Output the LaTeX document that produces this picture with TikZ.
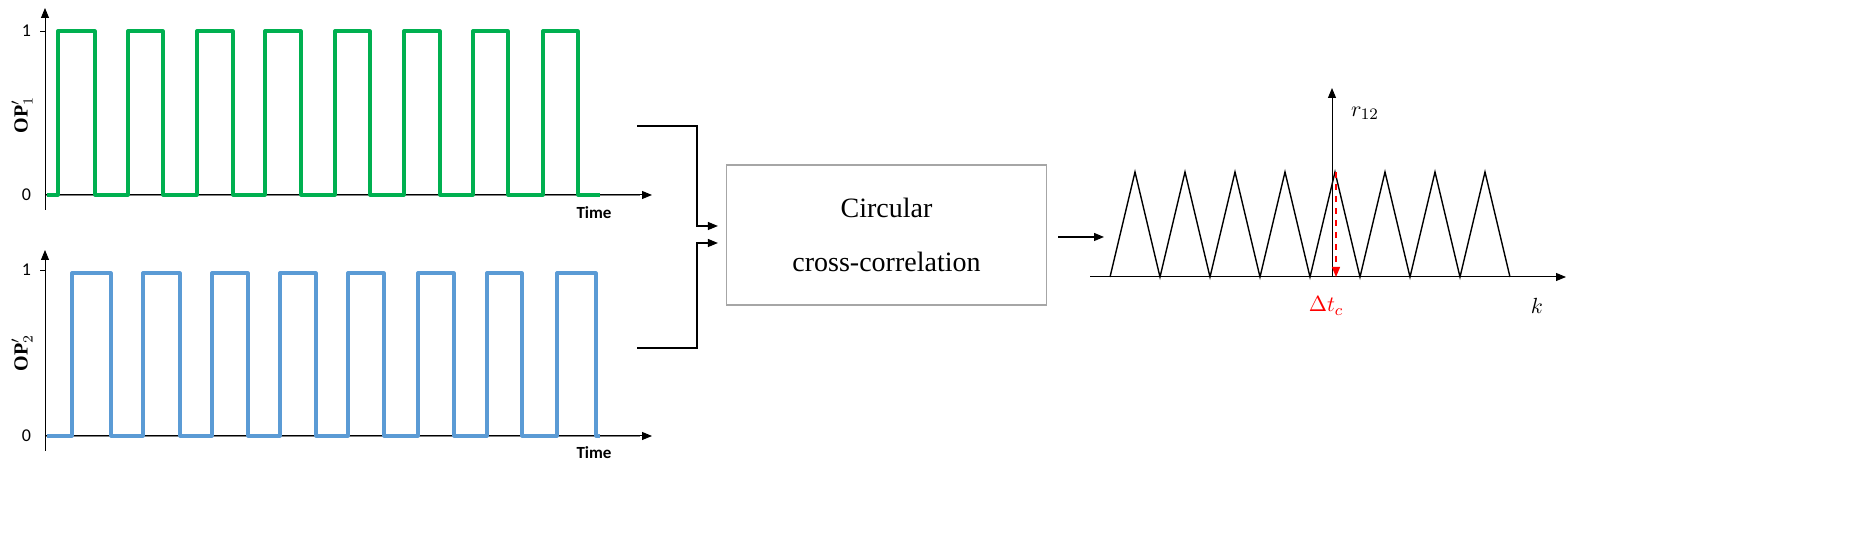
\documentclass[tikz,border=0pt]{standalone}
\usepackage{fontspec}
\setmainfont{Liberation Serif}
\newfontfamily\carlitofont{Carlito}
\usetikzlibrary{arrows.meta}
\definecolor{sgreen}{RGB}{0,176,80}
\definecolor{sblue}{RGB}{91,155,213}
\tikzset{ax/.style={-{Triangle[length=5pt,width=4pt]},line width=0.5pt},
 ann/.style={font=\carlitofont\fontsize{9}{10}\selectfont},
 conn/.style={-{Triangle[length=5pt,width=4pt]},line width=0.6pt}}
\begin{document}
\begin{tikzpicture}[x=0.5pt,y=-0.5pt]
\useasboundingbox (0,0) rectangle (1854,544);
% top plot
\coordinate (o1) at (45,195);
\coordinate (y1) at (45,8);
\coordinate (x1) at (652,195);
\draw[gray,line width=0.6pt] (45,195) -- (640,195);
\draw[ax] (45,210) -- (y1);
\draw[ax] (o1) -- (x1);
\draw (40,31) -- (45,31);
\node[ann,anchor=east] at (38,31) {1};
\node[ann,anchor=east] at (38,195) {0};
\node[font=\carlitofont\bfseries\fontsize{8.5}{10}\selectfont] at (594,213) {Time};
\node[rotate=90] at (22,115) {\fontsize{10}{11}\selectfont$\mathbf{OP}'_1$};
\draw[sgreen,line width=1.6pt,line join=round]
 (47,195) -- (58,195)
 \foreach \a/\b/\c in {58/95/128,128/163/197,197/233/265,265/301/335,335/370/404,404/440/473,473/508/543,543/578/600}
 { -- (\a,31) -- (\b,31) -- (\b,195) -- (\c,195) };
% bottom plot
\coordinate (o2) at (45,436);
\coordinate (y2) at (45,250);
\coordinate (x2) at (652,436);
\draw[gray,line width=0.6pt] (45,436) -- (640,436);
\draw[ax] (45,451) -- (y2);
\draw[ax] (o2) -- (x2);
\draw (40,270) -- (45,270);
\node[ann,anchor=east] at (38,270) {1};
\node[ann,anchor=east] at (38,436) {0};
\node[font=\carlitofont\bfseries\fontsize{8.5}{10}\selectfont] at (594,453) {Time};
\node[rotate=90] at (22,353) {\fontsize{10}{11}\selectfont$\mathbf{OP}'_2$};
\draw[sblue,line width=1.6pt,line join=round]
 (47,436) -- (72,436)
 \foreach \a/\b/\c in {72/111/143,143/180/212,212/248/280,280/316/348,348/384/418,418/454/487,487/522/557,557/596/600}
 { -- (\a,273) -- (\b,273) -- (\b,436) -- (\c,436) };
% box
\node[draw=gray!70,line width=0.6pt,minimum width=160pt,minimum height=70pt,align=center,font=\fontsize{14}{27}\selectfont] (box) at (886.5,235) {Circular\\cross-correlation};
\coordinate (s1) at (637,126);
\coordinate (s2) at (637,348);
\coordinate (b1) at (box.west |- 0,226);
\coordinate (b2) at (box.west |- 0,243);
\draw[conn] (s1) -- (697,126) -- (697,226) -- ([xshift=-4pt]b1);
\draw[conn] (s2) -- (697,348) -- (697,243) -- ([xshift=-4pt]b2);
% right plot
\coordinate (rin) at (1058,237);
\coordinate (rout) at (1104,237);
\draw[conn] (rin) -- (rout);
\coordinate (ro) at (1332,277);
\draw[ax] (1090,277) -- (1566,277);
\draw[ax] (ro) -- (1332,88);
\draw[line width=0.7pt,line join=miter]
 (1110,277) \foreach \p in {1135,1185,1235,1285,1335,1385,1435,1485}
 { -- (\p,172) -- (\p+25,277) };
\coordinate (pk) at (1336,172);
\coordinate (pb) at (1336,277);
\draw[red,dashed,line width=0.7pt,-{Triangle[length=5pt,width=4pt]}] (pk) -- (pb);
\node[font=\fontsize{11}{12}\selectfont] at (1365,113) {$r_{12}$};
\node[red,font=\fontsize{11}{12}\selectfont] at (1326,306) {$\Delta t_c$};
\node[font=\fontsize{11}{12}\selectfont] at (1537,306) {$k$};
\end{tikzpicture}
\end{document}
